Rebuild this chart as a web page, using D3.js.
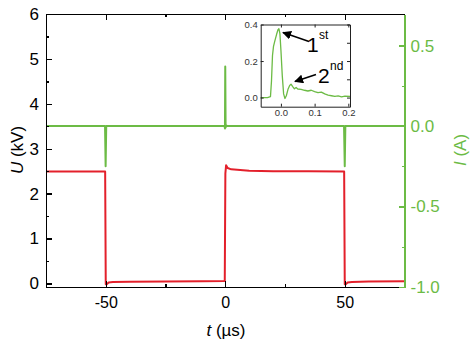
<!DOCTYPE html>
<html lang="en">
<head>
<meta charset="utf-8">
<title>U and I pulses</title>
<script src="https://cdn.jsdelivr.net/npm/d3@7"></script>
<style>
  body { margin: 0; background: #fff; }
  svg text { font-family: "Liberation Sans", Arial, sans-serif; }
  .axis path, .axis line { shape-rendering: crispEdges; }
</style>
</head>
<body>
<div id="chart"></div>
<script>
// voltage U (kV) vs time (µs)
var uTime = [-75, -60, -50.25, -50.0, -49.6, -48.8, -47, -40, -25, -10, -0.2,
             0.05, 0.35, 1, 2.5, 5, 10, 20, 35, 49.75, 50.0, 50.4, 51.2, 53, 60, 75];
var uVal  = [2.49, 2.49, 2.49, -0.02, -0.02, 0.02, 0.03, 0.035, 0.045, 0.05, 0.055,
             2.45, 2.63, 2.57, 2.54, 2.53, 2.51, 2.5, 2.5, 2.49, -0.02, -0.02, 0.02, 0.03, 0.04, 0.05];

// current I (A) vs time (µs)
var iTime = [-75, -50.3, -50.05, -49.8, -0.3, -0.12, 0.0, 0.15, 0.35, 0.8, 49.7, 50.0, 50.25, 75];
var iVal  = [0, 0, -0.25, 0, 0, -0.015, 0.37, -0.01, 0.005, 0, 0, -0.25, 0, 0];

// inset: current around t = 0
var inTime = [-0.06, -0.04, -0.031, -0.028, -0.025, -0.022, -0.018, -0.013, -0.009, -0.006,
              -0.003, 0.0, 0.004, 0.008, 0.012, 0.016, 0.021, 0.026, 0.03, 0.035, 0.04, 0.045,
              0.05, 0.06, 0.07, 0.08, 0.09, 0.1, 0.11, 0.12, 0.13, 0.14, 0.15, 0.16, 0.17, 0.18, 0.19, 0.205];
var inVal  = [0.0, 0.0, 0.005, 0.09, 0.23, 0.28, 0.31, 0.345, 0.37, 0.377,
              0.35, 0.26, 0.12, 0.02, -0.005, 0.01, 0.045, 0.066, 0.073, 0.06, 0.048, 0.055,
              0.047, 0.045, 0.04, 0.036, 0.04, 0.033, 0.027, 0.03, 0.02, 0.013, 0.01, 0.006, 0.009, 0.004, 0.008, 0.006];

var tTicks = [-50, 0, 50], tMinor = [-25, 25];
var uTicks = [0, 1, 2, 3, 4, 5, 6], uMinor = [0.5, 1.5, 2.5, 3.5, 4.5, 5.5];
var iTicks = [-1.0, -0.5, 0.0, 0.5], iMinor = [-0.75, -0.25, 0.25];
var inXTicks = [0.0, 0.1, 0.2], inYTicks = [0.0, 0.2, 0.4], inYMinor = [0.1, 0.3];

var width = 474, height = 347;
var red = "#e3202b", green = "#6cbb45";
var L = 46, R = 404.5, T = 14, B = 287;

// plain hyphen for negative numbers, as in the original figure
function fmt(spec) {
  var f = d3.format(spec);
  return function(d) { return f(d).replace("\u2212", "-"); };
}

var svg = d3.select("#chart").append("svg")
    .attr("width", width).attr("height", height);

var x = d3.scaleLinear().domain([-75, 75]).range([L, R]);
var yU = d3.scaleLinear().domain([-0.08, 6]).range([B, T]);
var yI = d3.scaleLinear().domain([-1.0, 0.696]).range([B, T]);

// data lines
var uLine = d3.line().x(function(d, i) { return x(uTime[i]); }).y(function(d) { return yU(d); });
var iLine = d3.line().x(function(d, i) { return x(iTime[i]); }).y(function(d) { return yI(d); });

svg.append("path").datum(uVal).attr("d", uLine)
    .attr("fill", "none").attr("stroke", red).attr("stroke-width", 2)
    .attr("stroke-linejoin", "round");
svg.append("path").datum(iVal).attr("d", iLine)
    .attr("fill", "none").attr("stroke", green).attr("stroke-width", 2)
    .attr("stroke-linejoin", "round");

// axes (ticks inward)
function styleAxis(g, col, size) {
  g.selectAll("path, line").attr("stroke", col).attr("stroke-width", 1.3);
  g.selectAll("text").attr("fill", col).style("font-size", size + "px");
}

svg.append("g").attr("class", "axis").attr("transform", "translate(0," + B + ")")
    .call(d3.axisBottom(x).tickValues(tMinor).tickSize(-3).tickSizeOuter(0).tickFormat(""))
    .call(styleAxis, "#000", 16);
svg.append("g").attr("class", "axis").attr("transform", "translate(0," + B + ")")
    .call(d3.axisBottom(x).tickValues(tTicks).tickSize(-6).tickSizeOuter(0).tickPadding(10)
      .tickFormat(fmt("d")))
    .call(styleAxis, "#000", 16);
svg.append("g").attr("class", "axis").attr("transform", "translate(0," + T + ")")
    .call(d3.axisTop(x).tickValues(tTicks).tickSize(-6).tickSizeOuter(0).tickFormat(""))
    .call(styleAxis, "#000", 16);
svg.append("g").attr("class", "axis").attr("transform", "translate(0," + T + ")")
    .call(d3.axisTop(x).tickValues(tMinor).tickSize(-3).tickSizeOuter(0).tickFormat(""))
    .call(styleAxis, "#000", 16);

svg.append("g").attr("class", "axis").attr("transform", "translate(" + L + ",0)")
    .call(d3.axisLeft(yU).tickValues(uMinor).tickSize(-3).tickSizeOuter(0).tickFormat(""))
    .call(styleAxis, "#000", 16);
svg.append("g").attr("class", "axis").attr("transform", "translate(" + L + ",0)")
    .call(d3.axisLeft(yU).tickValues(uTicks).tickSize(-6).tickSizeOuter(0).tickPadding(7)
      .tickFormat(fmt("d")))
    .call(styleAxis, "#000", 17);

svg.append("g").attr("class", "axis").attr("transform", "translate(" + R + ",0)")
    .call(d3.axisRight(yI).tickValues(iMinor).tickSize(-3).tickSizeOuter(0).tickFormat(""))
    .call(styleAxis, green, 16);
svg.append("g").attr("class", "axis").attr("transform", "translate(" + R + ",0)")
    .call(d3.axisRight(yI).tickValues(iTicks).tickSize(-6).tickSizeOuter(0).tickPadding(6)
      .tickFormat(fmt(".1f")))
    .call(styleAxis, green, 17);

// axis titles
svg.append("text").attr("transform", "translate(23,150) rotate(-90)")
    .attr("text-anchor", "middle").style("font-size", "17px")
    .html('<tspan font-style="italic">U</tspan> (kV)');
svg.append("text").attr("x", 226).attr("y", 336)
    .attr("text-anchor", "middle").style("font-size", "17px")
    .html('<tspan font-style="italic">t</tspan> (\u00b5s)');
svg.append("text").attr("transform", "translate(466,150) rotate(-90)")
    .attr("text-anchor", "middle").style("font-size", "17px").attr("fill", green)
    .html('<tspan font-style="italic">I</tspan> (A)');

// inset
var iL = 260.7, iR = 350, iT = 24.5, iB = 106.7;
var xi = d3.scaleLinear().domain([-0.06, 0.205]).range([iL, iR]);
var yi = d3.scaleLinear().domain([-0.05, 0.4]).range([iB, iT]);

var inset = svg.append("g");
inset.append("rect").attr("x", iL).attr("y", iT).attr("width", iR - iL).attr("height", iB - iT)
    .attr("fill", "#fff");

var inLine = d3.line().x(function(d, i) { return xi(inTime[i]); }).y(function(d) { return yi(d); });
inset.append("path").datum(inVal).attr("d", inLine)
    .attr("fill", "none").attr("stroke", green).attr("stroke-width", 1.3)
    .attr("stroke-linejoin", "round");

function styleInset(g) {
  g.selectAll("path, line").attr("stroke", "#222").attr("stroke-width", 1);
  g.selectAll("text").attr("fill", "#333").style("font-size", "9.5px");
}
inset.append("g").attr("transform", "translate(0," + iB + ")")
    .call(d3.axisBottom(xi).tickValues(inXTicks).tickSize(-3).tickSizeOuter(0).tickPadding(3)
      .tickFormat(fmt(".1f")))
    .call(styleInset);
inset.append("g").attr("transform", "translate(0," + iT + ")")
    .call(d3.axisTop(xi).tickValues(inXTicks).tickSize(-3).tickSizeOuter(0).tickFormat(""))
    .call(styleInset);
inset.append("g").attr("transform", "translate(" + iL + ",0)")
    .call(d3.axisLeft(yi).tickValues(inYTicks).tickSize(-3).tickSizeOuter(0).tickPadding(3)
      .tickFormat(fmt(".1f")))
    .call(styleInset);
inset.append("g").attr("transform", "translate(" + iR + ",0)")
    .call(d3.axisRight(yi).tickValues(inYTicks.concat(inYMinor)).tickSize(-3).tickSizeOuter(0).tickFormat(""))
    .call(styleInset);

// arrows and peak labels
svg.append("defs").append("marker").attr("id", "ah")
    .attr("viewBox", "0 0 10 10").attr("refX", 9).attr("refY", 5)
    .attr("markerWidth", 6).attr("markerHeight", 6).attr("orient", "auto")
  .append("path").attr("d", "M0,0L10,5L0,10z").attr("fill", "#000");

svg.append("line").attr("x1", 309).attr("y1", 41.5).attr("x2", 283).attr("y2", 32.5)
    .attr("stroke", "#000").attr("stroke-width", 1.5).attr("marker-end", "url(#ah)");
svg.append("line").attr("x1", 316).attr("y1", 74.5).attr("x2", 295).attr("y2", 81.5)
    .attr("stroke", "#000").attr("stroke-width", 1.5).attr("marker-end", "url(#ah)");

svg.append("text").attr("x", 307).attr("y", 52).style("font-size", "21px").text("1");
svg.append("text").attr("x", 319).attr("y", 39).style("font-size", "12px").text("st");
svg.append("text").attr("x", 318).attr("y", 82.5).style("font-size", "21px").text("2");
svg.append("text").attr("x", 330).attr("y", 70).style("font-size", "12px").text("nd");
</script>
</body>
</html>
